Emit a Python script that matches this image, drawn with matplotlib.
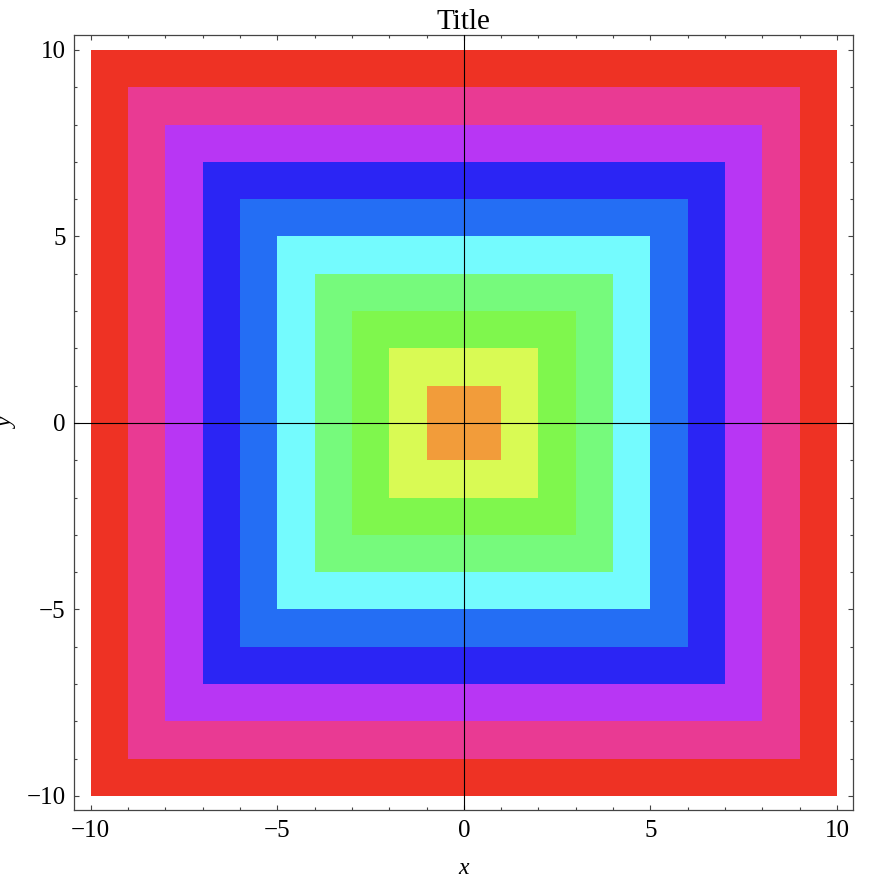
import matplotlib.pyplot as plt
from matplotlib.patches import Rectangle
from matplotlib.ticker import MultipleLocator

plt.rcParams['font.family'] = ['Liberation Serif', 'DejaVu Serif']

# half-widths of the nested squares, outermost first
half_sizes = [10, 9, 8, 7, 6, 5, 4, 3, 2, 1]
square_colors = ['#ee3224', '#e93a93', '#b836f4', '#2b25f4', '#246ef4',
                 '#74fbfe', '#76fa7c', '#7ff74d', '#d9fa54', '#f29c3a']
major_ticks = [-10, -5, 0, 5, 10]

fig = plt.figure(figsize=(8.78, 8.76), dpi=100)
ax = fig.add_axes([0.0843, 0.0753, 0.8872, 0.8847])

for h, c in zip(half_sizes, square_colors):
    ax.add_patch(Rectangle((-h, -h), 2*h, 2*h, facecolor=c, edgecolor='none'))

ax.axhline(0, color='black', lw=0.8, zorder=3)
ax.axvline(0, color='black', lw=0.8, zorder=3)

ax.set_xlim(-10.45, 10.43)
ax.set_ylim(-10.38, 10.4)

ax.set_xticks(major_ticks)
ax.set_yticks(major_ticks)
ax.set_xticklabels(['\u221210', '\u22125', '0', '5', '10'])
ax.set_yticklabels(['\u221210', '\u22125', '0', '5', '10'])
ax.xaxis.set_minor_locator(MultipleLocator(1))
ax.yaxis.set_minor_locator(MultipleLocator(1))
ax.tick_params(which='both', direction='in', top=True, right=True, color='#444444', width=0.8)
ax.tick_params(which='major', length=3.5, labelsize=18)
ax.tick_params(which='minor', length=2)
ax.tick_params(axis='x', pad=7)
ax.tick_params(axis='y', pad=6)
for s in ax.spines.values():
    s.set_color('#444444')
    s.set_linewidth(0.9)

ax.set_title('Title', fontsize=21, pad=4)
ax.set_xlabel('x', fontsize=17, style='italic', labelpad=12)
ax.set_ylabel('y', fontsize=17, style='italic', labelpad=6)

fig.savefig('out.png', dpi=100)
